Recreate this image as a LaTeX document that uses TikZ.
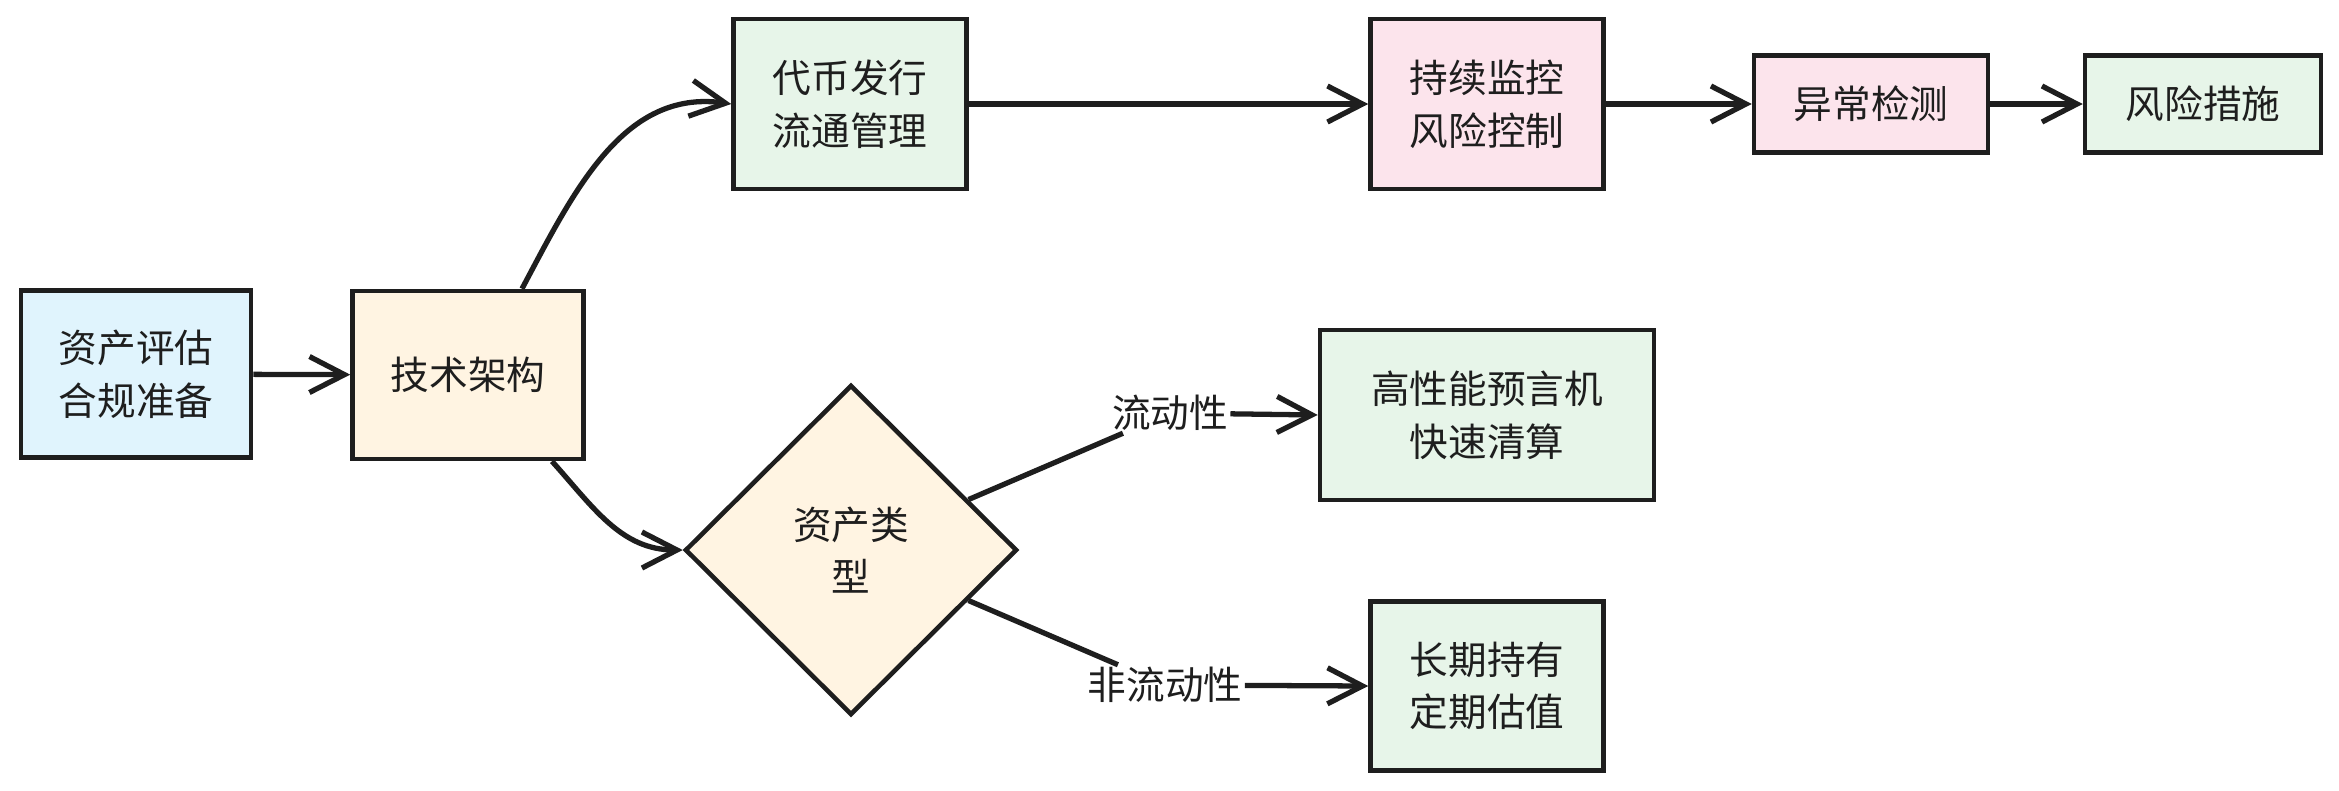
\documentclass[tikz,border=0pt]{standalone}
\usepackage{fontspec}
\usepackage{tikz}
\usetikzlibrary{arrows.meta,shapes.geometric}
\newfontfamily\cjk{Noto Sans CJK SC}
\definecolor{boxblue}{HTML}{E0F4FD}
\definecolor{boxorange}{HTML}{FFF4E2}
\definecolor{boxgreen}{HTML}{E7F5E9}
\definecolor{boxpink}{HTML}{FCE4EC}
\definecolor{inkline}{HTML}{1E1E1E}
\tikzset{
  txt/.style={font=\cjk\fontsize{11}{15}\selectfont, text=inkline, align=center},
  procbox/.style={txt, draw=inkline, line width=1.3pt, rectangle, inner sep=0pt},
  decbox/.style={txt, draw=inkline, line width=1.3pt, diamond, inner sep=0pt,
    minimum width=3.32cm, minimum height=3.30cm, fill=boxorange},
  lbl/.style={txt, fill=white, inner sep=0.5pt},
  arr/.style={draw=inkline, line width=1.5pt, -{Straight Barb[length=3.5mm,width=3.6mm]}}
}

\begin{document}
\begin{tikzpicture}
				\useasboundingbox (0,0) rectangle (23.39,7.90);
				\node[procbox, fill=boxblue, minimum width=2.30cm, minimum height=1.67cm] (prep) at (1.36,4.16) {资产评估\\合规准备};
				\node[procbox, fill=boxorange, minimum width=2.31cm, minimum height=1.68cm] (arch) at (4.68,4.15) {技术架构};
				\node[procbox, fill=boxgreen, minimum width=2.33cm, minimum height=1.70cm] (issue) at (8.50,6.86) {代币发行\\流通管理};
				\node[procbox, fill=boxpink, minimum width=2.33cm, minimum height=1.70cm] (monitor) at (14.87,6.86) {持续监控\\风险控制};
				\node[procbox, fill=boxpink, minimum width=2.34cm, minimum height=0.97cm] (detect) at (18.71,6.86) {异常检测};
				\node[procbox, fill=boxgreen, minimum width=2.36cm, minimum height=0.97cm] (measure) at (22.03,6.86) {风险措施};
				\node[decbox] (kind) at (8.51,2.40) {资产类\\型};
				\node[procbox, fill=boxgreen, minimum width=3.34cm, minimum height=1.70cm] (oracle) at (14.87,3.75) {高性能预言机\\快速清算};
				\node[procbox, fill=boxgreen, minimum width=2.33cm, minimum height=1.69cm] (hold) at (14.87,1.04) {长期持有\\定期估值};
				\node[lbl] (liq) at (11.70,3.77) {流动性};
				\node[lbl] (illiq) at (11.65,1.05) {非流动性};
				\draw[arr] (prep) -- (arch);
				\draw[arr] (arch.north) ++(0.54,0) to[out=62,in=172] (issue.west);
				\draw[arr] (arch.south) ++(0.84,0) to[out=-48,in=180] (kind.west);
				\draw[arr] (issue) -- (monitor);
				\draw[arr] (monitor) -- (detect);
				\draw[arr] (detect) -- (measure);
				\draw[arr] (kind) -- (liq) -- (oracle.west);
				\draw[arr] (kind) -- (illiq) -- (hold.west);
			\end{tikzpicture}
\end{document}
